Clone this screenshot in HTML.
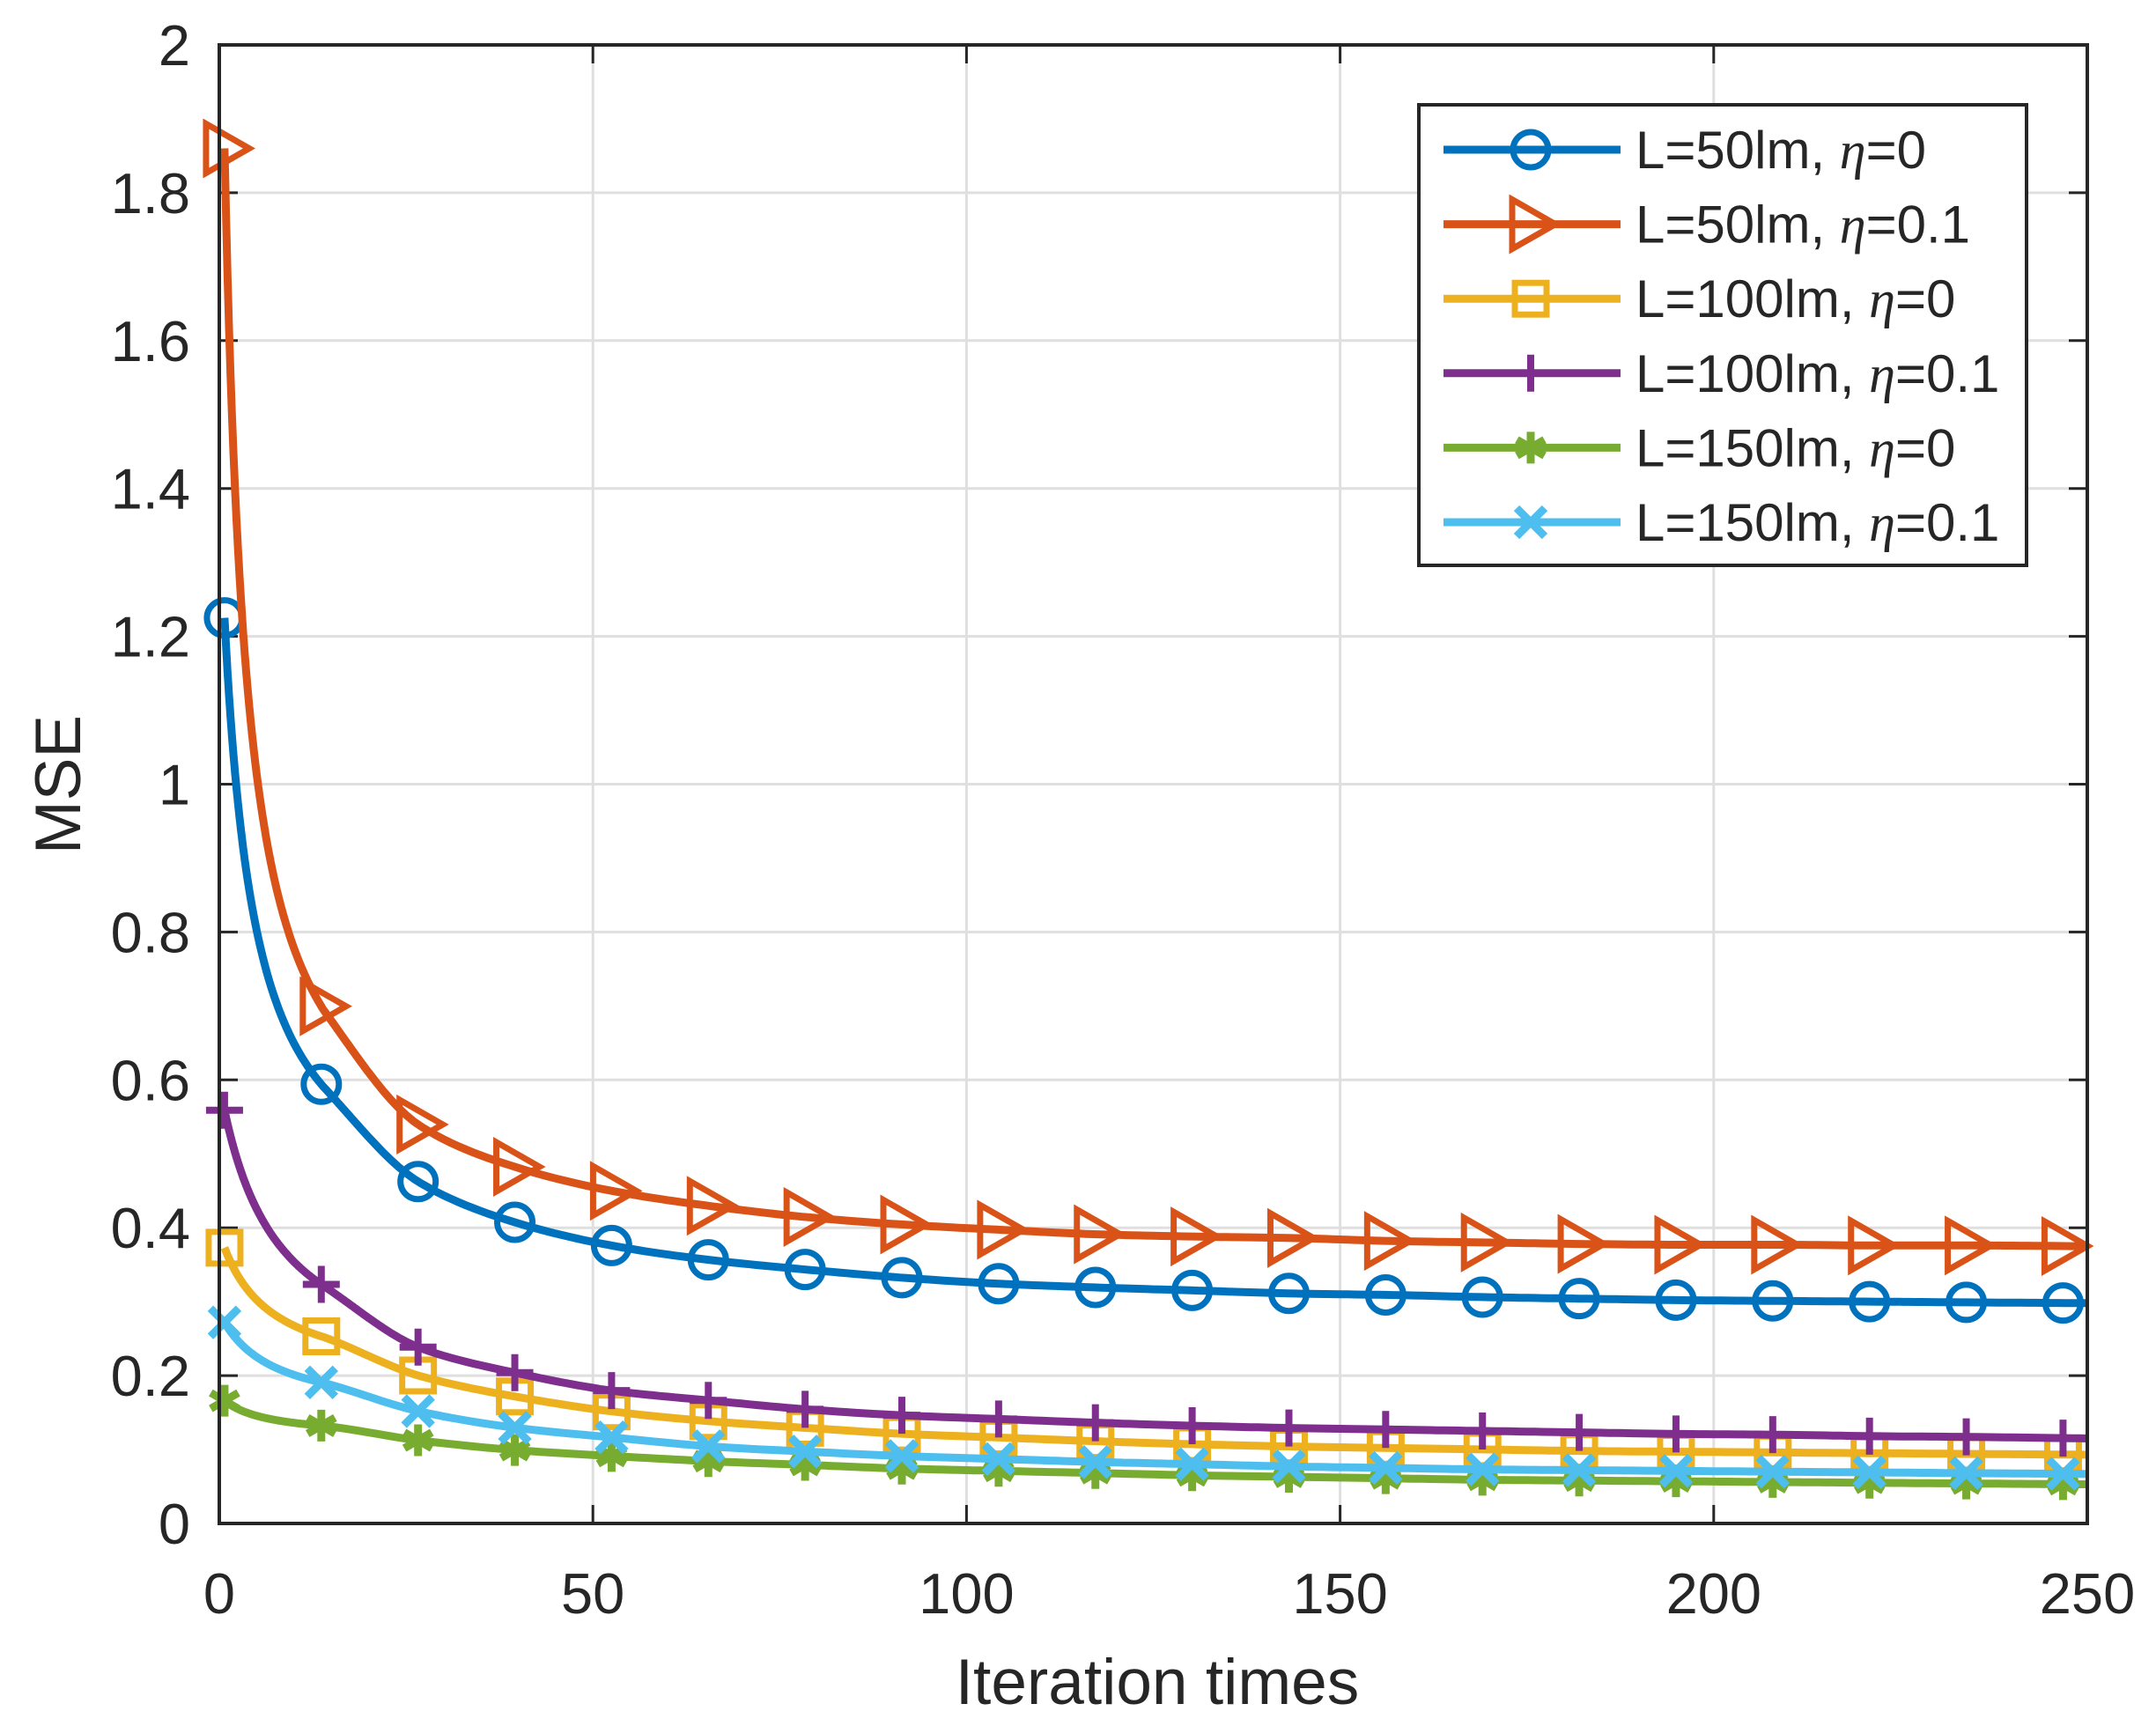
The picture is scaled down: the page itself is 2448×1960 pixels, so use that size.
<!DOCTYPE html>
<html><head><meta charset="utf-8"><style>
html,body{margin:0;padding:0;background:#fff;}
svg{display:block;}
text{font-family:"Liberation Sans",Arial,sans-serif;fill:#262626;}
</style></head><body>
<svg id="s" width="2448" height="1960" viewBox="0 0 2448 1960" xmlns="http://www.w3.org/2000/svg">
<rect width="2448" height="1960" fill="#fff"/>
<g id="grid" stroke="#dfdfdf" stroke-width="3"></g>
<g id="ticks" stroke="#262626" stroke-width="3"></g>
<g id="series"></g>
<rect x="249" y="51" width="2121" height="1679" fill="none" stroke="#262626" stroke-width="4"/>
<g id="labels" font-size="65"></g>
<text x="1314" y="1935" font-size="73" text-anchor="middle">Iteration times</text>
<text transform="translate(91,891) rotate(-90)" font-size="73" text-anchor="middle">MSE</text>
<g id="legend"></g>
</svg>
<script>
const NS="http://www.w3.org/2000/svg";
const X0=249,X1=2370,Y0=1730,Y1=51;
const sx=x=>X0+(x/250)*(X1-X0), sy=y=>Y0-(y/2)*(Y0-Y1);
function el(tag,attrs,parent,txt){const e=document.createElementNS(NS,tag);for(const k in attrs)e.setAttribute(k,attrs[k]);if(txt!==undefined)e.textContent=txt;parent.appendChild(e);return e;}
const grid=document.getElementById('grid'),ticks=document.getElementById('ticks'),labels=document.getElementById('labels');
for(let i=0;i<=5;i++){const x=sx(i*50);
 if(i>0&&i<5)el('line',{x1:x,y1:Y1,x2:x,y2:Y0},grid);
 el('line',{x1:x,y1:Y0,x2:x,y2:Y0-21},ticks);el('line',{x1:x,y1:Y1,x2:x,y2:Y1+21},ticks);
 el('text',{x:x,y:1832,'text-anchor':'middle'},labels,String(i*50));}
for(let i=0;i<=10;i++){const v=i*0.2,y=sy(v);
 if(i>0&&i<10)el('line',{x1:X0,y1:y,x2:X1,y2:y},grid);
 el('line',{x1:X0,y1:y,x2:X0+21,y2:y},ticks);el('line',{x1:X1,y1:y,x2:X1-21,y2:y},ticks);
 let t=i==0?'0':(i%5==0?String(v):v.toFixed(1));
 el('text',{x:216,y:y+23,'text-anchor':'end'},labels,t);}
const XS=0.7;
const S=[
 {c:'#0072BD',m:'o',e:[1.225,0.59,3.5],p:[[27,0.46],[40,0.406],[53,0.375],[66,0.356],[79,0.343],[92,0.332],[105,0.324],[118,0.319],[131,0.315],[144,0.311],[157,0.309],[170,0.306],[183,0.304],[196,0.302],[209,0.301],[222,0.3],[235,0.299],[250,0.298]]},
 {c:'#D95319',m:'tri',e:[1.86,0.694,2.23],p:[[27,0.537],[40,0.481],[53,0.449],[66,0.429],[79,0.414],[92,0.404],[105,0.397],[118,0.391],[131,0.388],[144,0.386],[157,0.382],[170,0.38],[183,0.378],[196,0.377],[209,0.377],[222,0.376],[235,0.376],[250,0.375]]},
 {c:'#EDB120',m:'sq',e:[0.373,0.252,6.2],p:[[27,0.199],[40,0.171],[53,0.151],[66,0.138],[79,0.129],[92,0.121],[105,0.116],[118,0.111],[131,0.107],[144,0.104],[157,0.102],[170,0.1],[183,0.098],[196,0.097],[209,0.096],[222,0.095],[235,0.094],[250,0.093]]},
 {c:'#7E2F8E',m:'plus',e:[0.559,0.321,7.2],p:[[27,0.237],[40,0.203],[53,0.179],[66,0.166],[79,0.154],[92,0.146],[105,0.141],[118,0.136],[131,0.132],[144,0.129],[157,0.127],[170,0.125],[183,0.123],[196,0.121],[209,0.12],[222,0.118],[235,0.117],[250,0.115]]},
 {c:'#77AC30',m:'ast',e:[0.166,0.132,5.56],p:[[27,0.112],[40,0.099],[53,0.091],[66,0.084],[79,0.079],[92,0.074],[105,0.071],[118,0.068],[131,0.065],[144,0.063],[157,0.061],[170,0.059],[183,0.058],[196,0.057],[209,0.056],[222,0.055],[235,0.054],[250,0.053]]},
 {c:'#4DBEEE',m:'x',e:[0.272,0.19,6.76],p:[[27,0.151],[40,0.129],[53,0.116],[66,0.104],[79,0.097],[92,0.091],[105,0.087],[118,0.083],[131,0.08],[144,0.077],[157,0.075],[170,0.073],[183,0.072],[196,0.071],[209,0.07],[222,0.069],[235,0.068],[250,0.067]]}
];
S.forEach(s=>{const [a,b14,b]=s.e,pts=[];
 for(let x=XS;x<13.9;x+=0.4){pts.push([x,b14+(a-b14)*(14-x)*(XS+b)/((14-XS)*(x+b))]);}
 pts.push([14,b14]);s.p=pts.concat(s.p);});
function interp(p,x){let i=0;while(i<p.length-2&&x>p[i+1][0])i++;
 const n=p.length,d=[],m=[];for(let k=0;k<n-1;k++)d.push((p[k+1][1]-p[k][1])/(p[k+1][0]-p[k][0]));
 m[0]=d[0];m[n-1]=d[n-2];for(let k=1;k<n-1;k++){m[k]=(d[k-1]*d[k]<=0)?0:2/(1/d[k-1]+1/d[k]);}
 const h=p[i+1][0]-p[i][0],t=(x-p[i][0])/h,t2=t*t,t3=t2*t;
 return (2*t3-3*t2+1)*p[i][1]+(t3-2*t2+t)*h*m[i]+(-2*t3+3*t2)*p[i+1][1]+(t3-t2)*h*m[i+1];}
function marker(g,type,x,y,c){
 const sw=7;
 if(type=='o')el('circle',{cx:x,cy:y,r:20,fill:'none',stroke:c,'stroke-width':sw},g);
 else if(type=='tri')el('polygon',{points:`${x-21},${y-28} ${x+28},${y} ${x-21},${y+28}`,fill:'none',stroke:c,'stroke-width':sw},g);
 else if(type=='sq')el('rect',{x:x-18,y:y-18,width:36,height:36,fill:'none',stroke:c,'stroke-width':sw},g);
 else if(type=='plus'){el('line',{x1:x-21,y1:y,x2:x+21,y2:y,stroke:c,'stroke-width':sw+1},g);el('line',{x1:x,y1:y-21,x2:x,y2:y+21,stroke:c,'stroke-width':sw+1},g);}
 else if(type=='x'){el('line',{x1:x-16,y1:y-16,x2:x+16,y2:y+16,stroke:c,'stroke-width':sw+2},g);el('line',{x1:x-16,y1:y+16,x2:x+16,y2:y-16,stroke:c,'stroke-width':sw+2},g);}
 else if(type=='ast'){for(const a of [0,60,120]){const r=a*Math.PI/180,dx=18*Math.sin(r),dy=18*Math.cos(r);el('line',{x1:x-dx,y1:y-dy,x2:x+dx,y2:y+dy,stroke:c,'stroke-width':sw+2},g);}}
}
const G=document.getElementById('series');
S.forEach(s=>{let d='';for(let x=XS;x<=250.01;x+=(x<20?0.1:1)){const xx=Math.min(x,250);d+=(d?'L':'M')+sx(xx).toFixed(1)+','+sy(interp(s.p,xx)).toFixed(1);}
 el('path',{d:d,fill:'none',stroke:s.c,'stroke-width':9,'stroke-linejoin':'round'},G);
 for(let k=0;k<20;k++){const x=XS+12.95*k;marker(G,s.m,sx(x),sy(interp(s.p,x)),s.c);}
});
const L=document.getElementById('legend');
el('rect',{x:1611,y:119,width:690,height:523,fill:'#fff',stroke:'#262626','stroke-width':4},L);
const names=[['L=50lm, ','0'],['L=50lm, ','0.1'],['L=100lm, ','0'],['L=100lm, ','0.1'],['L=150lm, ','0'],['L=150lm, ','0.1']];
S.forEach((s,i)=>{const y=170+i*84.6;
 el('line',{x1:1639,y1:y,x2:1840,y2:y,stroke:s.c,'stroke-width':9},L);
 marker(L,s.m,1738,y,s.c);
 const t=el('text',{x:1857,y:y+21,'font-size':60,fill:'#000'},L);
 el('tspan',{},t,names[i][0]);
 el('tspan',{'font-family':'Liberation Serif, serif','font-style':'italic'},t,'η');
 el('tspan',{},t,'='+names[i][1]);
});
</script>
</body></html>
